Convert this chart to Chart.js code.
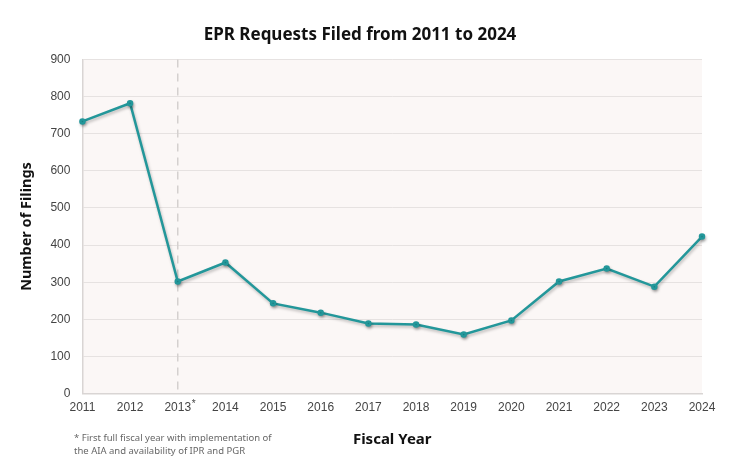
<!DOCTYPE html>
<html>
<head>
<meta charset="utf-8">
<script src="https://cdn.jsdelivr.net/npm/chart.js@4"></script>
<style>
  html, body { margin: 0; padding: 0; background: #fff; }
  #wrap { width: 752px; height: 471px; }
</style>
</head>
<body>
<div id="wrap"><canvas id="EprChart" width="752" height="471"></canvas></div>
<script>
let Years = ["2011", "2012", "2013", "2014", "2015", "2016", "2017", "2018", "2019", "2020", "2021", "2022", "2023", "2024"];
let Filings = [733, 782, 302, 353, 243, 218, 189, 186, 159, 197, 302, 337, 288, 423];
let YTicks = [0, 100, 200, 300, 400, 500, 600, 700, 800, 900];
let MarkedYear = "2013";
let FootLines = ["* First full fiscal year with implementation of", "the AIA and availability of IPR and PGR"];

const teal = "#23979a";

// plot background + dashed line at the marked year
const backPlugin = {
  id: "backPlugin",
  beforeDraw(chart) {
    const { ctx, chartArea } = chart;
    ctx.save();
    ctx.fillStyle = "#fbf7f6";
    ctx.fillRect(chartArea.left, chartArea.top, chartArea.right - chartArea.left, chartArea.bottom - chartArea.top);
    ctx.restore();
  },
  beforeDatasetsDraw(chart) {
    const { ctx, chartArea, scales } = chart;
    const x = scales.x.getPixelForValue(Years.indexOf(MarkedYear));
    ctx.save();
    ctx.strokeStyle = "#d4d0cf";
    ctx.lineWidth = 1.5;
    ctx.setLineDash([8, 6]);
    ctx.beginPath();
    ctx.moveTo(x, chartArea.top);
    ctx.lineTo(x, chartArea.bottom);
    ctx.stroke();
    ctx.restore();
    ctx.save();
    ctx.shadowColor = "rgba(0,0,0,0.25)";
    ctx.shadowBlur = 3;
    ctx.shadowOffsetX = 1;
    ctx.shadowOffsetY = 2;
  },
  afterDatasetsDraw(chart) {
    chart.ctx.restore();
  },
  afterDraw(chart) {
    const { ctx, scales } = chart;
    // asterisk next to marked year tick
    const x = scales.x.getPixelForValue(Years.indexOf(MarkedYear));
    ctx.save();
    ctx.fillStyle = "#444";
    ctx.font = "10px 'Liberation Sans', Arial, sans-serif";
    ctx.fillText("*", x + 14, scales.x.top + 13);
    // footnote
    ctx.fillStyle = "#666";
    ctx.font = "9.5px 'Noto Sans', sans-serif";
    ctx.textBaseline = "middle";
    FootLines.forEach((line, i) => {
      ctx.fillText(line, 74, 438 + i * 13);
    });
    ctx.restore();
  },
};

const ctx = document.getElementById("EprChart").getContext("2d");
new Chart(ctx, {
  type: "line",
  data: {
    labels: Years,
    datasets: [
      {
        label: "EPR Requests",
        data: Filings,
        borderColor: teal,
        backgroundColor: teal,
        borderWidth: 2.5,
        tension: 0,
        pointRadius: 2,
        pointBackgroundColor: teal,
        pointBorderColor: teal,
      },
    ],
  },
  options: {
    responsive: false,
    animation: false,
    layout: { padding: { left: 18, right: 50, top: 10, bottom: 22 } },
    plugins: {
      legend: { display: false },
      tooltip: { enabled: false },
      title: {
        display: true,
        text: "EPR Requests Filed from 2011 to 2024",
        color: "#111",
        font: { family: "'Noto Sans', sans-serif", size: 17, weight: "bold" },
        padding: { top: 15, bottom: 14 },
      },
    },
    scales: {
      x: {
        offset: false,
        grid: { display: false, drawTicks: false },
        border: { display: true, color: "#d9d5d4", width: 1.5 },
        ticks: {
          color: "#444",
          padding: 7,
          maxRotation: 0,
          font: { family: "'Liberation Sans', Arial, sans-serif", size: 12 },
        },
        title: {
          display: true,
          text: "Fiscal Year",
          color: "#111",
          font: { family: "'Noto Sans', sans-serif", size: 15, weight: "bold" },
          padding: { top: 9, bottom: 0 },
        },
      },
      y: {
        min: 0,
        max: 900,
        afterBuildTicks(axis) {
          axis.ticks = YTicks.map((v) => ({ value: v }));
        },
        grid: { color: "#e6e2e1", lineWidth: 1, drawTicks: false },
        border: { display: true, color: "#d9d5d4", width: 1.5 },
        ticks: {
          color: "#444",
          padding: 12,
          font: { family: "'Liberation Sans', Arial, sans-serif", size: 12 },
        },
        title: {
          display: true,
          text: "Number of Filings",
          color: "#111",
          font: { family: "'Noto Sans', sans-serif", size: 14.5, weight: "bold" },
          padding: { top: 0, bottom: 3 },
        },
      },
    },
  },
  plugins: [backPlugin],
});
</script>
</body>
</html>
